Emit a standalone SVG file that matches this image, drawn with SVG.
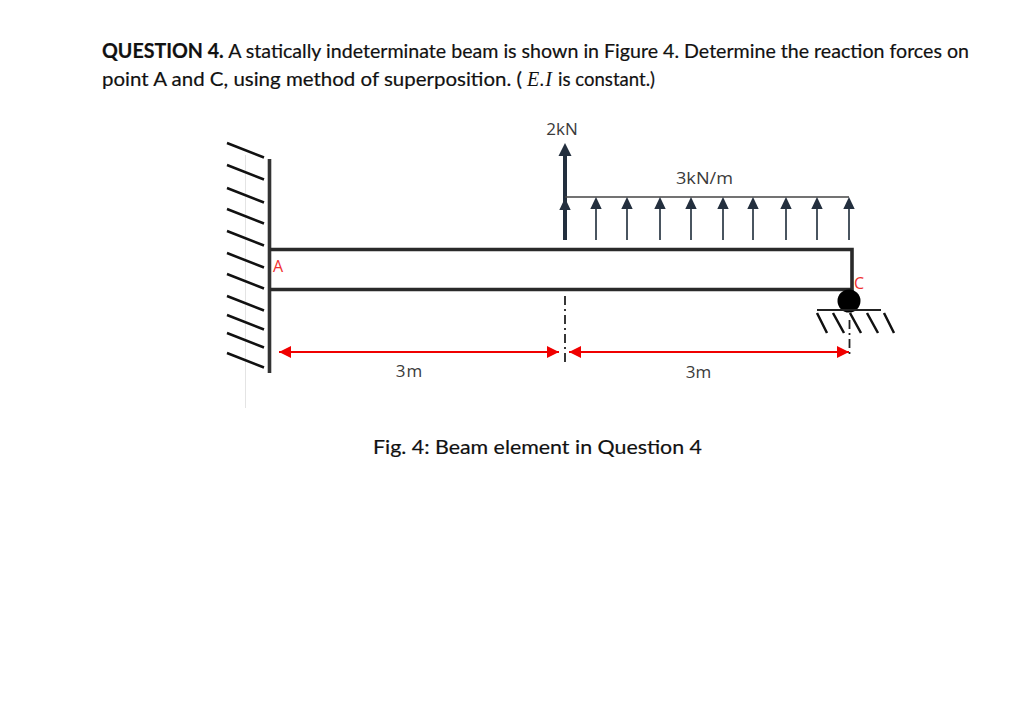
<svg xmlns="http://www.w3.org/2000/svg" width="1024" height="703" viewBox="0 0 1024 703">
<style>
.t{font-family:"Lato","Liberation Sans",sans-serif;font-size:20px;fill:#111;stroke:#111;stroke-width:.2}
.b{font-weight:700}
.l{font-family:"Open Sans","Liberation Sans",sans-serif;font-size:17px;fill:#3a3a3a}
.r{font-family:"Open Sans","Liberation Sans",sans-serif;font-size:16px;fill:#f03030}
.m{font-family:"Liberation Serif",serif;font-style:italic;font-size:20px;fill:#111;letter-spacing:.5px}
.h{stroke:#111;stroke-width:2.500;fill:none}
.beam{stroke:#2a2a2a;stroke-width:3.600;fill:none}
.dd{stroke:#222;stroke-width:1.800;fill:none;stroke-dasharray:9 4 2 4}
.dim{stroke:#f00000;stroke-width:2;fill:none;marker-start:url(#rs);marker-end:url(#re)}
.u{stroke:#4a5560;stroke-width:2;fill:none}
.ah{fill:#232f3e}
</style>
<defs>
<marker id="re" markerUnits="userSpaceOnUse" markerWidth="13" markerHeight="14" refX="12" refY="7" orient="auto"><path d="M0 1L12 7L0 13z" fill="#f00000"/></marker>
<marker id="rs" markerUnits="userSpaceOnUse" markerWidth="13" markerHeight="14" refX="1" refY="7" orient="auto"><path d="M13 1L1 7L13 13z" fill="#f00000"/></marker>
<path id="up" class="ah" d="M0 0L5.700 12H-5.700z"/>
</defs>
<rect width="1024" height="703" fill="#fff"/>
<g id="question">
<text class="t" y="58" x="102" textLength="867" lengthAdjust="spacingAndGlyphs"><tspan class="b">QUESTION 4.</tspan> A statically indeterminate beam is shown in Figure 4. Determine the reaction forces on</text>
<text class="t" y="86" x="102" textLength="420" lengthAdjust="spacingAndGlyphs">point A and C, using method of superposition. (</text>
<text class="m" y="86" x="527">E.I</text>
<text class="t" y="86" x="558" textLength="97" lengthAdjust="spacingAndGlyphs">is constant.)</text>
</g>
<g id="wall">
<path d="M245.500 155V408" stroke="#e4e4e4" stroke-width="1" fill="none"/>
<path d="M269.500 159V373" stroke="#333" stroke-width="3.600" fill="none"/>
<path class="h" d="M227 143L264 157.500M227 165L264 179.500M227 188L264 202.500M227 209L264 223.500M227 231L264 245.500M227 253L264 267.500M227 274L264 288.500M227 296L264 310.500M227 315L264 329.500M227 333L264 347.500M227 353L264 367.500"/>
</g>
<g id="beam">
<path class="beam" d="M270 249.500H852V289.500H270"/>
<text class="r" x="273" y="272">A</text>
</g>
<g id="support-c">
<text class="r" x="854" y="289">C</text>
<circle cx="849" cy="301" r="11.500" fill="#000"/>
<path d="M817 310H881" stroke="#222" stroke-width="1.800" fill="none"/>
<path class="h" d="M817 313L827 333M833 313L844 333M850 313L861 333M867 313L878 333M884 313L894 333"/>
</g>
<g id="load-2kn">
<path d="M565 150V240" stroke="#232f3e" stroke-width="4" fill="none"/>
<path class="ah" d="M565 143L571.500 156H558.500z"/>
<use href="#up" x="565" y="198"/>
<text class="l" x="562" y="135" text-anchor="middle">2kN</text>
</g>
<g id="load-3kn-m">
<path d="M565 197H849" stroke="#444" stroke-width="1.300" fill="none"/>
<path class="u" d="M596 205V240M627 205V240M660 205V240M691 205V240M723 205V240M753 205V240M786 205V240M817 205V240M849 205V240"/>
<use href="#up" x="596" y="197"/><use href="#up" x="627" y="197"/><use href="#up" x="660" y="197"/><use href="#up" x="691" y="197"/><use href="#up" x="723" y="197"/><use href="#up" x="753" y="197"/><use href="#up" x="786" y="197"/><use href="#up" x="817" y="197"/><use href="#up" x="849" y="197"/>
<text class="l" x="704.500" y="184" text-anchor="middle" textLength="57" lengthAdjust="spacingAndGlyphs">3kN/m</text>
</g>
<g id="connectors">
<path class="dd" d="M565 296V362"/>
<path class="dd" d="M849.500 320V355"/>
<path class="dim" d="M279 352H559"/>
<path class="dim" d="M569 352H849"/>
</g>
<g id="dimension-labels">
<text class="l" x="409.500" y="377" text-anchor="middle" letter-spacing="1">3m</text>
<text class="l" x="698.500" y="378" text-anchor="middle">3m</text>
</g>
<g id="caption">
<text class="t" x="373" y="454" textLength="329" lengthAdjust="spacingAndGlyphs">Fig. 4: Beam element in Question 4</text>
</g>
</svg>
